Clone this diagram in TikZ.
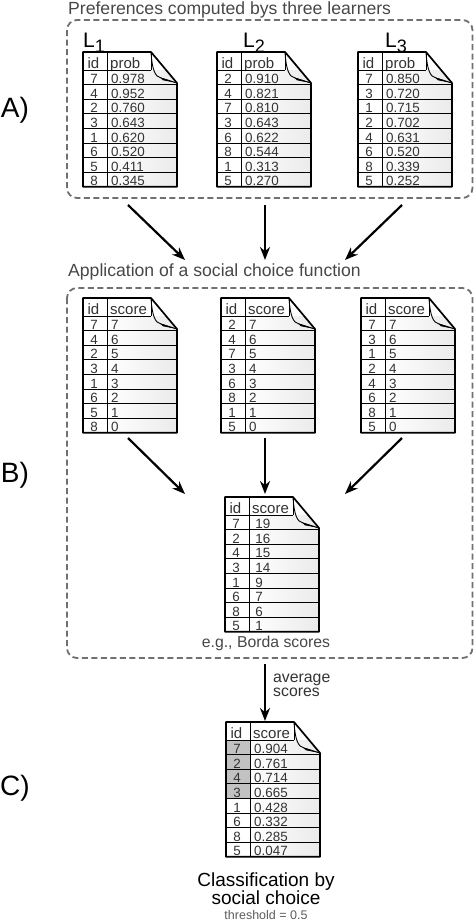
\documentclass[tikz,border=0pt]{standalone}
\usepackage{fontspec}
\setmainfont{Liberation Sans}
\usepackage{tikz}
\usetikzlibrary{arrows.meta}
\definecolor{txtgray}{HTML}{333333}
\definecolor{boxgray}{HTML}{707070}
\definecolor{idgray}{HTML}{C2C2C2}
\newcommand{\fsz}[1]{\fontsize{#1}{#1}\selectfont}
\tikzset{groupbox/.style={draw=boxgray,line width=1.8pt,dash pattern=on 6pt off 3.5pt,rounded corners=10pt}}
\tikzset{flow/.style={-{Stealth[length=13pt,width=10pt]},line width=2.2pt}}
\tikzset{cell/.style={inner sep=0pt,text=txtgray,font=\fsz{13.4},anchor=base}}
\tikzset{headcell/.style={cell,font=\fsz{15}}}
\tikzset{caption/.style={inner sep=0pt,text=txtgray!90,font=\fsz{17.6}}}
% table with a folded corner: name, left, top, header, id/value list, grey rows
\newcommand{\pagetable}[6]{%
\begin{scope}[shift={(#2,#3)}]
\fill[white] (0,0) -- (68,0) -- (94,31) -- (94,134.8) -- (0,134.8) -- cycle;
\begin{scope}
\clip (0,0) -- (68,0) -- (94,31) -- (94,134.8) -- (0,134.8) -- cycle;
\shade[left color=white,right color=gray!16] (24,18) rectangle (94,134.8);
\end{scope}
\ifnum#6>0
\foreach \k in {1,...,#6}
\fill[idgray] (0,{18+(\k-1)*14.6}) rectangle (24,{18+\k*14.6});
\fi
\node [headcell] (#1-head-id) at (10.5,16) {id};
\node [headcell,anchor=base west] (#1-head) at (27,16) {#4};
\foreach \i/\v [count=\y] in {#5} {
\node [cell] (#1-id-\y) at (11,{17+\y*14.6}) {\i};
\node [cell,anchor=base west] (#1-val-\y) at (28,{17+\y*14.6}) {\v};
\draw [line width=1pt] (0,{18+\y*14.6}) -- (94,{18+\y*14.6});
}
\draw [line width=1pt] (0,18) -- (68,18) (68,0) -- (68,18) (24,0) -- (24,134.8);
% the fold
\draw [line width=0.9pt] (68,0) .. controls (69,17) and (72,25) .. (78,26) -- (94,31);
\fill (77,25.3) -- (94,31) -- (80,28.3) -- cycle;
\draw [line width=1.7pt,line join=round] (0,0) -- (68,0) -- (94,31) -- (94,134.8) -- (0,134.8) -- cycle;
\end{scope}}

\begin{document}
\begin{tikzpicture}[x=1pt,y=-1pt]
\useasboundingbox (0,0) rectangle (474,922);

% A) preferences
\node [caption,anchor=west] (titleA) at (68,10) {Preferences computed bys three learners};
\draw [groupbox] (67,20) rectangle (472.5,198);
\node [inner sep=0pt,font=\fsz{28}] (labA) at (15,110) {A)};
\foreach \n/\x in {1/83,2/243,3/385}
\node [inner sep=0pt,anchor=base west,font=\fsz{21}] (learner-\n) at (\x,47) {L\raisebox{-5pt}{\fsz{18}\n}};

\pagetable{pA}{83}{52}{prob}{7/0.978,4/0.952,2/0.760,3/0.643,1/0.620,6/0.520,5/0.411,8/0.345}{0}
\pagetable{pB}{217}{52}{prob}{2/0.910,4/0.821,7/0.810,3/0.643,6/0.622,8/0.544,1/0.313,5/0.270}{0}
\pagetable{pC}{358}{52}{prob}{7/0.850,3/0.720,1/0.715,2/0.702,4/0.631,6/0.520,8/0.339,5/0.252}{0}

\coordinate (a1s) at (128,205); \coordinate (a1e) at (185,260);
\coordinate (a2s) at (265,205); \coordinate (a2e) at (265,260);
\coordinate (a3s) at (402,205); \coordinate (a3e) at (345,260);

% B) social choice function
\node [caption,anchor=west] (titleB) at (68,272) {Application of a social choice function};
\draw [groupbox] (67,288) rectangle (472.5,658);
\node [inner sep=0pt,font=\fsz{28}] (labB) at (15,475) {B)};

\pagetable{sA}{83}{298}{score}{7/7,4/6,2/5,3/4,1/3,6/2,5/1,8/0}{0}
\pagetable{sB}{221}{298}{score}{2/7,4/6,7/5,3/4,6/3,8/2,1/1,5/0}{0}
\pagetable{sC}{361}{298}{score}{7/7,3/6,1/5,2/4,4/3,6/2,8/1,5/0}{0}

\coordinate (b1s) at (128,438); \coordinate (b1e) at (185,494);
\coordinate (b2s) at (265,438); \coordinate (b2e) at (265,494);
\coordinate (b3s) at (402,438); \coordinate (b3e) at (345,494);

\pagetable{borda}{225}{497}{score}{7/\,19,2/\,16,4/\,15,3/\,14,1/\,9,6/\,7,8/\,6,5/\,1}{0}
\node [caption,font=\fsz{15.8}] (bordaNote) at (266,643) {e.g., Borda scores};

% C) classification
\coordinate (c1s) at (265,664); \coordinate (c1e) at (265,721);
\node [inner sep=0pt,anchor=west,align=left,text=txtgray,font=\fsz{15.8}] (avgNote) at (273,685) {average\\[-1.5pt]scores};
\node [inner sep=0pt,font=\fsz{28}] (labC) at (15,788) {C)};

\pagetable{final}{226}{722}{score}{7/0.904,2/0.761,4/0.714,3/0.665,1/0.428,6/0.332,8/0.285,5/0.047}{4}

\node [inner sep=0pt,align=center,font=\fsz{19}] (classNote) at (266,889) {Classification by\\[-1pt]social choice};
\node [inner sep=0pt,text=txtgray!80,font=\fsz{12.5}] (threshold) at (266,915) {threshold = 0.5};

\foreach \s/\e in {a1s/a1e,a2s/a2e,a3s/a3e,b1s/b1e,b2s/b2e,b3s/b3e,c1s/c1e}
\draw [flow] (\s) -- (\e);
\end{tikzpicture}
\end{document}
